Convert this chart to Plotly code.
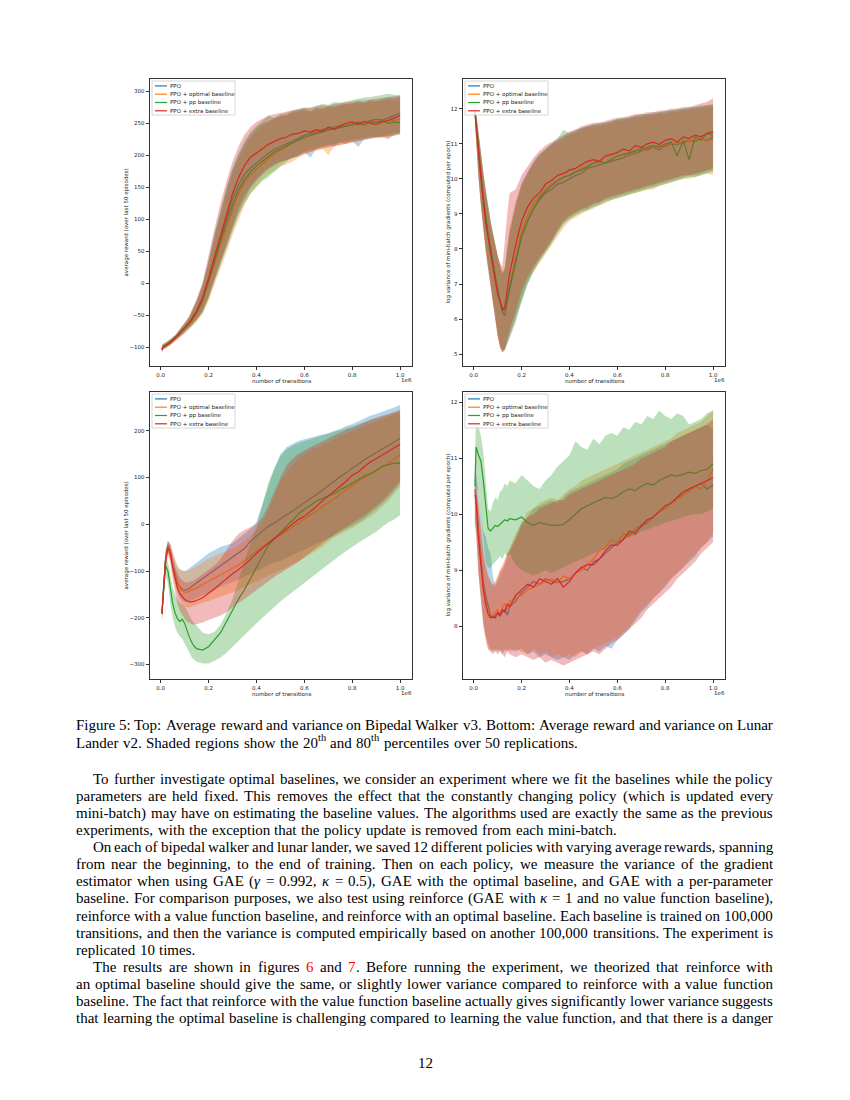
import re
import plotly.graph_objects as go

# ---------------------------------------------------------------- data
X = [0.005, 0.01, 0.02, 0.03, 0.04, 0.05, 0.06, 0.07, 0.08, 0.09,
     0.10, 0.11, 0.12, 0.13, 0.14, 0.15, 0.175, 0.2, 0.225, 0.25,
     0.275, 0.3, 0.325, 0.35, 0.375, 0.4, 0.425, 0.45, 0.475, 0.5,
     0.525, 0.55, 0.575, 0.6, 0.625, 0.65, 0.675, 0.7, 0.725, 0.75,
     0.775, 0.8, 0.825, 0.85, 0.875, 0.9, 0.925, 0.95, 0.975, 1.0]

SERIES_NAMES = ["PPO", "PPO + optimal baseline", "PPO + pp baseline", "PPO + extra baseline"]
X_TICKS = [0.0, 0.2, 0.4, 0.6, 0.8, 1.0]
X_TICK_TEXT = ["0.0", "0.2", "0.4", "0.6", "0.8", "1.0"]

# ---- Bipedal Walker: average reward
BW_R_PPO = [
    -103, -99, -97, -95, -92, -89, -86, -82, -78, -74,
    -70, -66, -62, -56, -50, -44, -24, 6, 40, 72,
    103, 132, 154, 170, 180, 188, 196, 203, 209, 213,
    217, 222, 226, 231, 233, 236, 240, 242, 243, 246,
    245, 249, 252, 250, 254, 256, 255, 258, 262, 266]
BW_R_OPT = [
    -104, -100, -98, -96, -93, -90, -87, -83, -79, -75,
    -72, -68, -64, -59, -53, -47, -28, 0, 30, 60,
    88, 115, 140, 157, 169, 178, 187, 195, 202, 207,
    213, 219, 223, 228, 231, 235, 236, 240, 241, 244,
    247, 246, 249, 252, 250, 253, 252, 255, 254, 257]
BW_R_PP = [
    -102, -99, -97, -95, -92, -89, -86, -82, -78, -74,
    -70, -66, -62, -57, -51, -45, -26, 3, 35, 66,
    96, 122, 146, 162, 174, 183, 191, 198, 205, 210,
    214, 219, 224, 228, 231, 234, 236, 239, 242, 243,
    246, 248, 250, 247, 253, 251, 254, 250, 252, 251]
BW_R_EXTRA = [
    -104, -99, -97, -95, -92, -88, -85, -81, -77, -73,
    -69, -65, -61, -55, -49, -43, -22, 8, 42, 76,
    110, 140, 165, 184, 197, 203, 210, 217, 222, 226,
    228, 233, 234, 238, 236, 240, 237, 244, 240, 246,
    250, 252, 248, 253, 250, 248, 252, 254, 258, 262]
BW_R_PPO_LO = [
    -107, -103, -101, -99, -96, -93, -90, -87, -84, -80,
    -77, -73, -70, -66, -62, -58, -45, -22, 5, 30,
    58, 85, 110, 130, 148, 160, 170, 178, 183, 189,
    192, 195, 198, 205, 196, 210, 212, 215, 214, 220,
    218, 222, 213, 225, 226, 229, 228, 232, 234, 236]
BW_R_PPO_HI = [
    -99, -95, -93, -91, -88, -85, -82, -78, -73, -68,
    -63, -58, -52, -45, -37, -28, -2, 35, 76, 112,
    148, 178, 200, 218, 232, 243, 250, 253, 258, 262,
    263, 268, 270, 272, 268, 274, 273, 277, 276, 279,
    280, 281, 284, 282, 286, 285, 288, 290, 289, 292]
BW_R_OPT_LO = [
    -108, -104, -102, -100, -97, -94, -91, -88, -85, -81,
    -78, -75, -72, -68, -64, -60, -48, -28, -2, 22,
    48, 75, 100, 122, 140, 152, 162, 170, 176, 182,
    186, 190, 196, 200, 205, 207, 210, 200, 214, 216,
    218, 220, 222, 224, 226, 228, 227, 230, 231, 234]
BW_R_OPT_HI = [
    -100, -96, -94, -92, -89, -86, -83, -79, -74, -69,
    -65, -60, -55, -48, -40, -32, -6, 30, 68, 104,
    140, 170, 194, 212, 226, 238, 246, 251, 256, 260,
    262, 266, 268, 270, 269, 272, 271, 276, 274, 278,
    279, 280, 282, 281, 284, 283, 286, 287, 285, 288]
BW_R_PP_LO = [
    -106, -102, -100, -98, -95, -92, -89, -86, -83, -79,
    -76, -72, -69, -65, -61, -57, -45, -24, 4, 28,
    55, 82, 106, 125, 140, 150, 160, 166, 175, 183,
    190, 196, 200, 205, 208, 211, 213, 216, 218, 220,
    222, 224, 226, 227, 229, 228, 230, 229, 231, 232]
BW_R_PP_HI = [
    -98, -94, -92, -90, -87, -84, -81, -77, -72, -67,
    -62, -57, -51, -44, -36, -27, -1, 36, 78, 114,
    150, 180, 203, 222, 236, 246, 254, 262, 258, 264,
    266, 270, 272, 274, 275, 277, 280, 279, 283, 282,
    284, 287, 288, 290, 291, 292, 294, 296, 295, 293]
BW_R_EXTRA_LO = [
    -108, -103, -101, -99, -96, -92, -89, -86, -83, -79,
    -75, -72, -68, -64, -60, -56, -42, -20, 8, 34,
    62, 90, 116, 136, 152, 162, 172, 180, 186, 190,
    193, 197, 200, 203, 206, 208, 210, 212, 214, 217,
    219, 221, 223, 224, 226, 227, 229, 225, 232, 234]
BW_R_EXTRA_HI = [
    -99, -95, -93, -91, -88, -84, -81, -77, -72, -66,
    -61, -56, -50, -42, -33, -24, 2, 42, 86, 126,
    160, 190, 214, 232, 244, 252, 257, 262, 264, 266,
    268, 270, 272, 274, 273, 276, 278, 277, 280, 282,
    283, 284, 286, 285, 287, 288, 289, 291, 292, 294]

# ---- Bipedal Walker: log variance of mini-batch gradients
BW_V_PPO = [
    11.95, 11.55, 10.8, 10.05, 9.45, 8.85, 8.4, 7.95, 7.65, 7.2,
    6.85, 6.45, 6.2, 6.1, 6.45, 6.85, 7.6, 8.35, 8.8, 9.15,
    9.4, 9.6, 9.7, 9.85, 9.9, 10.0, 10.1, 10.15, 10.3, 10.35,
    10.4, 10.45, 10.5, 10.55, 10.6, 10.7, 10.72, 10.8, 10.85, 10.9,
    10.82, 10.95, 11.0, 10.98, 11.05, 11.1, 11.08, 11.15, 11.1, 11.2]
BW_V_OPT = [
    11.95, 11.6, 10.85, 10.1, 9.5, 8.9, 8.45, 8.0, 7.6, 7.25,
    6.9, 6.5, 6.3, 6.2, 6.55, 6.95, 7.75, 8.5, 8.95, 9.3,
    9.5, 9.7, 9.85, 9.95, 10.05, 10.1, 10.2, 10.3, 10.35, 10.45,
    10.5, 10.45, 10.55, 10.65, 10.7, 10.65, 10.8, 10.85, 10.8, 10.9,
    10.95, 10.9, 11.0, 11.05, 11.0, 11.1, 11.05, 11.15, 11.1, 11.15]
BW_V_PP = [
    11.9, 11.55, 10.8, 10.05, 9.45, 8.9, 8.45, 8.0, 7.6, 7.2,
    6.85, 6.5, 6.3, 6.25, 6.55, 6.9, 7.65, 8.35, 8.8, 9.15,
    9.45, 9.65, 9.8, 9.95, 10.05, 10.1, 10.2, 10.25, 10.35, 10.45,
    10.5, 10.45, 10.55, 10.65, 10.7, 10.75, 10.8, 10.85, 10.9, 10.95,
    10.9, 11.0, 11.05, 10.65, 11.1, 10.55, 11.2, 11.1, 11.3, 11.25]
BW_V_EXTRA = [
    11.9, 11.5, 10.7, 10.0, 9.35, 8.75, 8.3, 7.9, 7.5, 7.1,
    6.7, 6.5, 6.25, 6.35, 6.8, 7.3, 8.1, 8.8, 9.2, 9.45,
    9.6, 9.85, 9.95, 10.1, 10.15, 10.25, 10.3, 10.4, 10.5, 10.55,
    10.5, 10.65, 10.7, 10.75, 10.85, 10.8, 10.95, 10.9, 11.0, 11.05,
    10.98, 11.1, 11.15, 11.05, 11.2, 11.15, 11.25, 11.2, 11.3, 11.35]
BW_V_PPO_LO = [
    11.7, 11.1, 10.1, 9.3, 8.6, 8.0, 7.5, 7.0, 6.5, 6.0,
    5.55, 5.2, 5.05, 5.1, 5.25, 5.45, 5.9, 6.5, 7.0, 7.4,
    7.7, 7.95, 8.2, 8.5, 8.75, 8.9, 9.0, 9.1, 9.15, 9.25,
    9.3, 9.4, 9.45, 9.5, 9.55, 9.6, 9.65, 9.7, 9.75, 9.8,
    9.85, 9.9, 9.95, 10.0, 10.05, 10.1, 10.1, 10.15, 10.2, 10.25]
BW_V_PPO_HI = [
    12.2, 12.0, 11.4, 10.8, 10.2, 9.7, 9.2, 8.8, 8.45, 8.1,
    7.8, 7.5, 7.3, 7.4, 8.0, 8.5, 9.3, 9.9, 10.2, 10.5,
    10.7, 10.85, 11.0, 11.1, 11.2, 11.3, 11.35, 11.45, 11.5, 11.55,
    11.55, 11.6, 11.65, 11.7, 11.7, 11.75, 11.8, 11.8, 11.85, 11.85,
    11.9, 11.9, 11.95, 11.95, 12.0, 12.0, 12.05, 12.05, 12.1, 12.1]
BW_V_OPT_LO = [
    11.65, 11.05, 10.05, 9.25, 8.55, 7.95, 7.45, 6.95, 6.45, 5.95,
    5.5, 5.15, 5.05, 5.12, 5.3, 5.5, 6.0, 6.6, 7.1, 7.35,
    7.6, 7.85, 8.1, 8.35, 8.6, 8.8, 8.9, 9.0, 9.1, 9.15,
    9.25, 9.3, 9.4, 9.45, 9.5, 9.55, 9.6, 9.65, 9.7, 9.7,
    9.8, 9.85, 9.9, 9.95, 10.0, 10.0, 10.05, 10.1, 10.15, 10.1]
BW_V_OPT_HI = [
    12.2, 11.95, 11.35, 10.75, 10.15, 9.65, 9.2, 8.85, 8.5, 8.15,
    7.85, 7.55, 7.35, 7.5, 8.1, 8.6, 9.35, 9.85, 10.15, 10.45,
    10.65, 10.8, 10.95, 11.05, 11.15, 11.25, 11.3, 11.4, 11.45, 11.5,
    11.5, 11.55, 11.6, 11.65, 11.65, 11.7, 11.75, 11.75, 11.8, 11.8,
    11.85, 11.85, 11.9, 11.9, 11.95, 11.95, 12.0, 12.0, 12.05, 12.05]
BW_V_PP_LO = [
    11.7, 11.1, 10.1, 9.3, 8.6, 8.05, 7.55, 7.05, 6.55, 6.05,
    5.6, 5.25, 5.1, 5.15, 5.35, 5.55, 6.05, 6.55, 7.0, 7.35,
    7.65, 7.9, 8.15, 8.45, 8.7, 8.85, 8.95, 9.05, 9.1, 9.2,
    9.25, 9.35, 9.4, 9.45, 9.5, 9.55, 9.6, 9.65, 9.7, 9.75,
    9.8, 9.85, 9.9, 9.95, 10.0, 10.05, 10.05, 10.1, 10.15, 10.2]
BW_V_PP_HI = [
    12.15, 11.95, 11.4, 10.8, 10.2, 9.7, 9.25, 8.85, 8.45, 8.1,
    7.8, 7.5, 7.3, 7.45, 8.0, 8.45, 9.2, 9.8, 10.15, 10.45,
    10.7, 10.85, 11.0, 11.15, 11.4, 11.3, 11.4, 11.45, 11.5, 11.55,
    11.6, 11.6, 11.65, 11.7, 11.75, 11.75, 11.8, 11.85, 11.85, 11.9,
    11.9, 11.95, 11.95, 12.0, 12.0, 12.05, 12.05, 12.1, 12.1, 12.15]
BW_V_EXTRA_LO = [
    11.6, 11.0, 10.0, 9.2, 8.5, 7.9, 7.4, 6.9, 6.4, 5.95,
    5.5, 5.2, 5.05, 5.15, 5.4, 5.7, 6.2, 6.8, 7.2, 7.5,
    7.75, 8.0, 8.25, 8.55, 8.8, 8.95, 9.05, 9.15, 9.2, 9.3,
    9.35, 9.45, 9.5, 9.55, 9.6, 9.65, 9.7, 9.75, 9.8, 9.85,
    9.9, 9.95, 10.0, 10.05, 10.1, 10.1, 10.15, 10.2, 10.25, 10.3]
BW_V_EXTRA_HI = [
    12.1, 11.9, 11.3, 10.7, 10.1, 9.6, 9.15, 8.75, 8.4, 8.1,
    7.8, 7.6, 7.5, 8.2, 9.0, 9.6, 9.7, 10.1, 10.35, 10.6,
    10.8, 10.95, 11.05, 11.15, 11.25, 11.35, 11.4, 11.5, 11.55, 11.6,
    11.6, 11.65, 11.7, 11.75, 11.75, 11.8, 11.85, 11.85, 11.9, 11.9,
    11.95, 11.95, 12.0, 12.0, 12.05, 12.05, 12.1, 12.15, 12.2, 12.3]

# ---- Lunar Lander: average reward
LL_R_PPO = [
    -190, -150, -75, -45, -58, -85, -108, -124, -134, -139,
    -141, -140, -137, -133, -129, -125, -116, -107, -98, -89,
    -80, -71, -62, -52, -36, -25, -14, -4, 3, 12,
    20, 28, 38, 46, 55, 63, 73, 82, 92, 102,
    110, 120, 128, 138, 146, 154, 161, 168, 176, 184]
LL_R_OPT = [
    -192, -150, -78, -48, -58, -86, -110, -126, -136, -142,
    -145, -145, -143, -141, -139, -136, -129, -122, -115, -108,
    -102, -95, -87, -78, -68, -57, -48, -40, -32, -24,
    -15, -6, 3, 12, 20, 28, 37, 46, 55, 64,
    73, 82, 91, 100, 107, 114, 122, 130, 139, 148]
LL_R_PP = [
    -190, -150, -88, -100, -140, -170, -190, -202, -208, -203,
    -212, -228, -242, -253, -261, -266, -269, -262, -248, -232,
    -208, -183, -160, -140, -115, -90, -68, -45, -31, -16,
    -4, 8, 22, 32, 40, 50, 55, 60, 66, 74,
    80, 88, 96, 103, 108, 115, 124, 128, 131, 131]
LL_R_EXTRA = [
    -192, -150, -80, -50, -62, -92, -118, -136, -148, -156,
    -161, -164, -166, -166, -165, -163, -157, -148, -138, -127,
    -116, -106, -97, -87, -75, -62, -50, -40, -30, -21,
    -10, 0, 10, 17, 27, 38, 50, 60, 70, 80,
    92, 105, 112, 123, 133, 140, 148, 155, 164, 171]
LL_R_PPO_LO = [
    -205, -170, -92, -58, -72, -105, -128, -145, -156, -162,
    -165, -166, -165, -163, -161, -158, -152, -146, -140, -134,
    -128, -124, -118, -112, -106, -100, -94, -88, -82, -78,
    -72, -66, -60, -55, -48, -42, -36, -30, -24, -17,
    -10, -4, 4, 12, 22, 32, 44, 56, 70, 88]
LL_R_PPO_HI = [
    -175, -125, -55, -35, -42, -62, -80, -92, -98, -100,
    -100, -98, -95, -90, -86, -82, -72, -62, -55, -48,
    -45, -40, -32, -20, -10, 5, 40, 80, 120, 150,
    165, 172, 178, 182, 185, 188, 192, 195, 200, 204,
    210, 214, 220, 226, 232, 236, 240, 245, 250, 255]
LL_R_OPT_LO = [
    -205, -170, -95, -60, -75, -108, -132, -150, -162, -170,
    -175, -178, -178, -176, -174, -172, -168, -164, -160, -155,
    -150, -146, -140, -134, -128, -122, -116, -110, -104, -98,
    -92, -86, -80, -72, -64, -56, -48, -38, -28, -22,
    -14, -8, 0, 8, 16, 26, 38, 50, 65, 80]
LL_R_OPT_HI = [
    -178, -128, -58, -36, -40, -58, -75, -88, -95, -98,
    -100, -100, -98, -95, -92, -90, -82, -74, -68, -62,
    -58, -52, -45, -36, -25, -12, 5, 30, 60, 90,
    110, 125, 140, 150, 158, 165, 170, 176, 182, 188,
    194, 200, 205, 210, 215, 220, 225, 230, 236, 240]
LL_R_PP_LO = [
    -200, -170, -110, -125, -170, -200, -220, -232, -240, -245,
    -255, -268, -278, -285, -290, -294, -298, -298, -292, -285,
    -275, -262, -250, -238, -225, -212, -200, -188, -176, -165,
    -155, -145, -134, -124, -114, -104, -94, -84, -75, -66,
    -57, -48, -40, -32, -24, -16, -6, 4, 10, 20]
LL_R_PP_HI = [
    -175, -130, -72, -80, -110, -135, -150, -160, -168, -170,
    -175, -185, -195, -205, -212, -218, -232, -235, -230, -215,
    -190, -160, -120, -80, -40, -5, 40, 90, 120, 145,
    160, 168, 174, 178, 182, 186, 190, 194, 198, 202,
    206, 210, 214, 218, 222, 226, 230, 234, 238, 242]
LL_R_EXTRA_LO = [
    -208, -172, -100, -65, -82, -118, -148, -170, -185, -195,
    -202, -208, -212, -214, -215, -214, -210, -205, -200, -195,
    -188, -178, -168, -160, -150, -140, -130, -120, -112, -104,
    -96, -88, -80, -70, -60, -52, -42, -32, -22, -14,
    -6, 2, 10, 18, 28, 38, 50, 62, 76, 92]
LL_R_EXTRA_HI = [
    -180, -130, -60, -38, -45, -68, -90, -105, -115, -120,
    -124, -125, -124, -122, -120, -117, -108, -98, -88, -75,
    -55, -35, -20, -12, -6, 0, 15, 40, 70, 100,
    125, 140, 150, 158, 165, 172, 178, 184, 190, 196,
    202, 206, 212, 218, 224, 228, 232, 236, 240, 245]

# ---- Lunar Lander: log variance of mini-batch gradients
LL_V_PPO = [
    10.45, 10.3, 9.7, 9.2, 8.8, 8.55, 8.35, 8.2, 8.15, 8.2,
    8.22, 8.18, 8.25, 8.3, 8.2, 8.35, 8.45, 8.6, 8.7, 8.8,
    8.75, 8.85, 8.8, 8.78, 8.8, 8.85, 8.95, 9.05, 9.0, 9.15,
    9.2, 9.3, 9.4, 9.5, 9.55, 9.65, 9.7, 9.78, 9.85, 9.95,
    10.05, 10.1, 10.2, 10.3, 10.35, 10.45, 10.5, 10.55, 10.45, 10.52]
LL_V_OPT = [
    10.4, 10.25, 9.6, 9.1, 8.7, 8.45, 8.25, 8.18, 8.2, 8.25,
    8.3, 8.22, 8.35, 8.4, 8.3, 8.45, 8.5, 8.55, 8.65, 8.7,
    8.75, 8.8, 8.85, 8.78, 8.9, 8.85, 8.95, 9.0, 9.1, 9.2,
    9.35, 9.4, 9.55, 9.5, 9.65, 9.6, 9.75, 9.8, 9.9, 9.95,
    10.05, 10.1, 10.2, 10.25, 10.35, 10.4, 10.5, 10.45, 10.6, 10.8]
LL_V_PP = [
    10.5, 11.2, 11.05, 10.95, 10.6, 10.15, 9.75, 9.7, 9.75, 9.8,
    9.78, 9.82, 9.85, 9.9, 9.88, 9.92, 9.9, 9.95, 9.85, 9.8,
    9.85, 9.82, 9.8, 9.8, 9.82, 9.9, 10.0, 10.1, 10.15, 10.2,
    10.25, 10.3, 10.28, 10.32, 10.4, 10.45, 10.42, 10.5, 10.55, 10.52,
    10.6, 10.65, 10.7, 10.68, 10.72, 10.75, 10.73, 10.78, 10.8, 10.9]
LL_V_EXTRA = [
    10.35, 10.2, 9.55, 9.05, 8.65, 8.4, 8.22, 8.15, 8.17, 8.15,
    8.25, 8.2, 8.3, 8.25, 8.4, 8.35, 8.55, 8.65, 8.75, 8.7,
    8.85, 8.8, 8.75, 8.85, 8.7, 8.8, 8.95, 9.05, 9.1, 9.1,
    9.2, 9.35, 9.45, 9.45, 9.55, 9.7, 9.65, 9.8, 9.9, 9.95,
    10.05, 10.15, 10.2, 10.3, 10.4, 10.45, 10.5, 10.55, 10.6, 10.65]
LL_V_PPO_LO = [
    9.9, 9.75, 9.0, 8.5, 8.1, 7.85, 7.7, 7.6, 7.55, 7.6,
    7.55, 7.6, 7.5, 7.6, 7.55, 7.6, 7.55, 7.6, 7.5, 7.55,
    7.45, 7.5, 7.45, 7.4, 7.45, 7.4, 7.5, 7.55, 7.5, 7.6,
    7.55, 7.65, 7.6, 7.75, 7.85, 7.95, 8.1, 8.25, 8.35, 8.5,
    8.6, 8.7, 8.85, 8.95, 9.05, 9.15, 9.25, 9.4, 9.5, 9.6]
LL_V_PPO_HI = [
    10.9, 10.8, 10.4, 10.0, 9.7, 9.6, 9.4, 9.3, 8.9, 8.7,
    8.8, 8.9, 9.0, 9.1, 9.2, 9.35, 9.6, 9.85, 9.95, 10.1,
    10.15, 10.2, 10.25, 10.2, 10.3, 10.4, 10.45, 10.5, 10.55, 10.6,
    10.65, 10.7, 10.75, 10.8, 10.9, 10.95, 11.0, 11.05, 11.1, 11.15,
    11.2, 11.25, 11.3, 11.35, 11.4, 11.45, 11.5, 11.55, 11.6, 11.5]
LL_V_OPT_LO = [
    9.85, 9.7, 8.95, 8.45, 8.05, 7.8, 7.6, 7.55, 7.6, 7.55,
    7.6, 7.55, 7.6, 7.55, 7.6, 7.55, 7.6, 7.55, 7.5, 7.6,
    7.5, 7.55, 7.45, 7.5, 7.45, 7.5, 7.45, 7.55, 7.5, 7.6,
    7.65, 7.7, 7.75, 7.8, 7.9, 8.0, 8.15, 8.3, 8.4, 8.5,
    8.6, 8.75, 8.85, 8.95, 9.05, 9.2, 9.3, 9.4, 9.5, 9.7]
LL_V_OPT_HI = [
    10.8, 10.7, 10.2, 9.8, 9.4, 9.1, 8.9, 8.8, 8.7, 8.75,
    8.85, 9.0, 9.1, 9.2, 9.3, 9.4, 9.65, 9.85, 10.05, 10.1,
    10.2, 10.25, 10.3, 10.25, 10.35, 10.45, 10.5, 10.6, 10.65, 10.7,
    10.75, 10.8, 10.85, 10.9, 10.95, 11.0, 11.05, 11.1, 11.15, 11.2,
    11.25, 11.3, 11.35, 11.45, 11.5, 11.55, 11.6, 11.65, 11.75, 11.85]
LL_V_PP_LO = [
    10.0, 10.5, 10.4, 10.0, 9.5, 9.15, 9.05, 9.05, 9.1, 9.15,
    9.2, 9.25, 9.2, 9.3, 9.25, 9.3, 9.1, 9.0, 8.95, 8.9,
    8.95, 9.0, 8.95, 9.0, 9.05, 9.1, 9.15, 9.2, 9.25, 9.3,
    9.35, 9.4, 9.45, 9.5, 9.55, 9.6, 9.62, 9.7, 9.72, 9.78,
    9.8, 9.85, 9.88, 9.92, 9.95, 9.98, 10.0, 10.0, 10.05, 10.1]
LL_V_PP_HI = [
    11.0, 11.7, 11.55, 11.4, 11.1, 10.6, 10.1, 10.05, 10.2, 10.3,
    10.25, 10.4, 10.45, 10.55, 10.5, 10.6, 10.55, 10.7, 10.6, 10.5,
    10.45, 10.6, 10.7, 10.85, 10.95, 11.05, 11.3, 11.2, 11.15, 11.35,
    11.25, 11.4, 11.45, 11.4, 11.55, 11.5, 11.65, 11.6, 11.75, 11.7,
    11.85, 11.75, 11.7, 11.8, 11.75, 11.6, 11.65, 11.7, 11.8, 11.85]
LL_V_EXTRA_LO = [
    9.8, 9.65, 8.9, 8.4, 8.0, 7.75, 7.6, 7.55, 7.5, 7.55,
    7.5, 7.55, 7.5, 7.45, 7.55, 7.5, 7.45, 7.5, 7.45, 7.4,
    7.45, 7.35, 7.4, 7.35, 7.3, 7.35, 7.4, 7.45, 7.5, 7.55,
    7.5, 7.6, 7.7, 7.75, 7.85, 7.95, 8.05, 8.15, 8.3, 8.4,
    8.5, 8.6, 8.7, 8.85, 8.95, 9.05, 9.15, 9.3, 9.4, 9.5]
LL_V_EXTRA_HI = [
    10.7, 10.6, 10.1, 9.7, 9.3, 9.05, 8.9, 8.8, 8.75, 8.8,
    8.9, 9.0, 9.05, 9.15, 9.3, 9.35, 9.55, 9.8, 9.95, 10.0,
    10.1, 10.15, 10.2, 10.25, 10.25, 10.35, 10.4, 10.45, 10.5, 10.55,
    10.6, 10.65, 10.7, 10.75, 10.8, 10.85, 10.9, 11.0, 11.05, 11.1,
    11.15, 11.2, 11.3, 11.35, 11.4, 11.45, 11.5, 11.55, 11.6, 11.7]

# ---------------------------------------------------------------- text
# markup: [..] = red reference, <sup>..</sup> = superscript, <i>..</i> = italic
CAPTION = [
    "Figure 5: Top: Average reward and variance on Bipedal Walker v3. Bottom: Average reward and variance on Lunar",
    "Lander v2. Shaded regions show the 20<sup>th</sup> and 80<sup>th</sup> percentiles over 50 replications.",
]
BODY = [  # (text, indented, justified)
    ("To further investigate optimal baselines, we consider an experiment where we fit the baselines while the policy", True, True),
    ("parameters are held fixed. This removes the effect that the constantly changing policy (which is updated every", False, True),
    ("mini-batch) may have on estimating the baseline values. The algorithms used are exactly the same as the previous", False, True),
    ("experiments, with the exception that the policy update is removed from each mini-batch.", False, False),
    ("On each of bipedal walker and lunar lander, we saved 12 different policies with varying average rewards, spanning", True, True),
    ("from near the beginning, to the end of training. Then on each policy, we measure the variance of the gradient", False, True),
    ("estimator when using GAE (<i>γ</i> = 0.992, <i>κ</i> = 0.5), GAE with the optimal baseline, and GAE with a per-parameter", False, True),
    ("baseline. For comparison purposes, we also test using reinforce (GAE with <i>κ</i> = 1 and no value function baseline),", False, True),
    ("reinforce with a value function baseline, and reinforce with an optimal baseline. Each baseline is trained on 100,000", False, True),
    ("transitions, and then the variance is computed empirically based on another 100,000 transitions. The experiment is", False, True),
    ("replicated 10 times.", False, False),
    ("The results are shown in figures [6] and [7]. Before running the experiment, we theorized that reinforce with", True, True),
    ("an optimal baseline should give the same, or slightly lower variance compared to reinforce with a value function", False, True),
    ("baseline. The fact that reinforce with the value function baseline actually gives significantly lower variance suggests", False, True),
    ("that learning the optimal baseline is challenging compared to learning the value function, and that there is a danger", False, True),
]
PAGE_NUMBER = "12"

# ---------------------------------------------------------------- styling / layout
# The page body has an 8px default margin, so the figure is made 16px smaller
# and every page-pixel position below is shifted by that offset.
OFF = 8
W, H = 850 - 2 * OFF, 1100 - 2 * OFF
COLORS = ["#1f77b4", "#ff7f0e", "#2ca02c", "#d62728"]
ALPHA = 0.32
FILLS = ["rgba(31,119,180,%.2f)" % ALPHA, "rgba(255,127,14,%.2f)" % ALPHA,
         "rgba(44,160,44,%.2f)" % ALPHA, "rgba(214,39,40,%.2f)" % ALPHA]
SANS = "DejaVu Sans"
SERIF = "Liberation Serif"
SMALL = 5.5

PANELS = [
    dict(box=(150, 79, 412, 366), yrange=[-129, 319],
         yticks=[-100, -50, 0, 50, 100, 150, 200, 250, 300],
         ytitle="average reward (over last 50 episodes)", ytitle_x=126,
         series=[(BW_R_PPO, BW_R_PPO_LO, BW_R_PPO_HI), (BW_R_OPT, BW_R_OPT_LO, BW_R_OPT_HI),
                 (BW_R_PP, BW_R_PP_LO, BW_R_PP_HI), (BW_R_EXTRA, BW_R_EXTRA_LO, BW_R_EXTRA_HI)]),
    dict(box=(463, 79, 725, 366), yrange=[4.66, 12.85],
         yticks=[5, 6, 7, 8, 9, 10, 11, 12],
         ytitle="log variance of mini-batch gradients (computed per epoch)", ytitle_x=448,
         series=[(BW_V_PPO, BW_V_PPO_LO, BW_V_PPO_HI), (BW_V_OPT, BW_V_OPT_LO, BW_V_OPT_HI),
                 (BW_V_PP, BW_V_PP_LO, BW_V_PP_HI), (BW_V_EXTRA, BW_V_EXTRA_LO, BW_V_EXTRA_HI)]),
    dict(box=(150, 392, 412, 679), yrange=[-331, 283],
         yticks=[-300, -200, -100, 0, 100, 200],
         ytitle="average reward (over last 50 episodes)", ytitle_x=126,
         series=[(LL_R_PPO, LL_R_PPO_LO, LL_R_PPO_HI), (LL_R_OPT, LL_R_OPT_LO, LL_R_OPT_HI),
                 (LL_R_PP, LL_R_PP_LO, LL_R_PP_HI), (LL_R_EXTRA, LL_R_EXTRA_LO, LL_R_EXTRA_HI)]),
    dict(box=(463, 392, 725, 679), yrange=[7.06, 12.18],
         yticks=[8, 9, 10, 11, 12],
         ytitle="log variance of mini-batch gradients (computed per epoch)", ytitle_x=448,
         series=[(LL_V_PPO, LL_V_PPO_LO, LL_V_PPO_HI), (LL_V_OPT, LL_V_OPT_LO, LL_V_OPT_HI),
                 (LL_V_PP, LL_V_PP_LO, LL_V_PP_HI), (LL_V_EXTRA, LL_V_EXTRA_LO, LL_V_EXTRA_HI)]),
]

for p in PANELS:
    for trio in p["series"]:
        for arr in trio:
            if len(arr) != len(X):
                raise ValueError("length mismatch %d" % len(arr))


def fx(v):
    return (v - OFF) / W


def fy(v):
    return 1 - (v - OFF) / H


AX = dict(showline=True, mirror=True, linecolor="#333333", linewidth=0.8,
          ticks="outside", ticklen=3.5, tickwidth=0.8, tickcolor="#333333",
          showgrid=False, zeroline=False,
          tickfont=dict(family=SANS, size=SMALL, color="#222222"))

fig = go.Figure()
annotations = []
shapes = []
axes_layout = {}


def note(x, y, text, size=SMALL, family=SANS, color="#222222", xanchor="center",
         yanchor="middle", angle=0, style="normal"):
    annotations.append(dict(x=fx(x), y=fy(y), xref="paper", yref="paper", text=text,
                            showarrow=False, xanchor=xanchor, yanchor=yanchor,
                            textangle=angle, borderpad=0, borderwidth=0,
                            font=dict(family=family, size=size, color=color, style=style)))


for k, p in enumerate(PANELS):
    n = "" if k == 0 else str(k + 1)
    xa, ya = "x" + n, "y" + n
    l, t, r, b = p["box"]
    for (mean, lo, hi), name, c, f in zip(p["series"], SERIES_NAMES, COLORS, FILLS):
        fig.add_trace(go.Scatter(x=X, y=mean, mode="lines", name=name,
                                 line=dict(color=c, width=1.2),
                                 xaxis=xa, yaxis=ya, showlegend=False, hoverinfo="skip"))
        fig.add_trace(go.Scatter(x=X + X[::-1], y=lo + hi[::-1], mode="lines",
                                 fill="toself", fillcolor=f, line=dict(width=0),
                                 xaxis=xa, yaxis=ya, showlegend=False, hoverinfo="skip"))
    axes_layout["xaxis" + n] = dict(domain=[fx(l), fx(r)], anchor=ya, range=[-0.0448, 1.0498],
                                    tickvals=X_TICKS, ticktext=X_TICK_TEXT, **AX)
    axes_layout["yaxis" + n] = dict(domain=[fy(b), fy(t)], anchor=xa, range=p["yrange"],
                                    tickvals=p["yticks"], **AX)
    # axis titles & offset text
    note((l + r) / 2, b + 15, "number of transitions")
    note(p["ytitle_x"], (t + b) / 2, p["ytitle"], angle=-90)
    note(r - 6, b + 14, "1e6")
    # legend (matplotlib style)
    shapes.append(dict(type="rect", xref="paper", yref="paper",
                       x0=fx(l + 2), x1=fx(l + 85), y0=fy(t + 36), y1=fy(t + 2),
                       line=dict(color="#cccccc", width=0.8),
                       fillcolor="rgba(255,255,255,0.8)", layer="above"))
    for i, (name, c) in enumerate(zip(SERIES_NAMES, COLORS)):
        yy = t + 6.9 + i * 8.3
        shapes.append(dict(type="line", xref="paper", yref="paper",
                           x0=fx(l + 5), x1=fx(l + 17), y0=fy(yy), y1=fy(yy),
                           line=dict(color=c, width=1.2), layer="above"))
        note(l + 19.5, yy, name, xanchor="left")

# ---------------------------------------------------------------- page text (justified)
CW = {' ': 250, '.': 250, ',': 250, ':': 278, ';': 278, '(': 333, ')': 333, '-': 333,
      '=': 564, 'γ': 440, 'κ': 480}
for ch, w in zip("abcdefghijklmnopqrstuvwxyz",
                 [444, 500, 444, 500, 444, 333, 500, 500, 278, 278, 500, 278, 778,
                  500, 500, 500, 500, 333, 389, 278, 500, 500, 722, 500, 500, 444]):
    CW[ch] = w
for ch, w in zip("ABCDEFGHIJKLMNOPQRSTUVWXYZ",
                 [722, 667, 667, 722, 611, 556, 722, 722, 333, 389, 722, 611, 889,
                  722, 722, 556, 722, 667, 556, 611, 722, 722, 944, 722, 722, 611]):
    CW[ch] = w
for ch in "0123456789":
    CW[ch] = 500

FS = 15
LEFT, RIGHT, INDENT = 76, 773, 17
SUP_SCALE = 0.7


def raw_width(s, size):
    return sum(CW.get(c, 500) for c in s) * size / 1000.0


def pieces(word):
    """split a word into (text, kind) pieces: normal / red / sup / ital"""
    out = []
    for tok in re.split(r"(\[.*?\]|<sup>.*?</sup>|<i>.*?</i>)", word):
        if not tok:
            continue
        if tok.startswith("["):
            out.append((tok[1:-1], "red"))
        elif tok.startswith("<sup>"):
            out.append((tok[5:-6], "sup"))
        elif tok.startswith("<i>"):
            out.append((tok[3:-4], "ital"))
        else:
            out.append((tok, "normal"))
    return out


def piece_width(txt, kind):
    return raw_width(txt, FS * SUP_SCALE if kind == "sup" else FS)


def word_width(word):
    return sum(piece_width(t, k) for t, k in pieces(word))


def draw_word(x, y, word):
    for txt, kind in pieces(word):
        if kind == "sup":
            note(x, y - 0.36 * FS, txt, size=FS * SUP_SCALE, family=SERIF,
                 color="#000000", xanchor="left")
        else:
            note(x, y, txt, size=FS, family=SERIF,
                 color="#ff0000" if kind == "red" else "#000000", xanchor="left",
                 style="italic" if kind == "ital" else "normal")
        x += piece_width(txt, kind)


def set_line(text, y, indent, justify):
    words = text.split(" ")
    x0 = LEFT + (INDENT if indent else 0)
    widths = [word_width(w) for w in words]
    if justify and len(words) > 1:
        gap = (RIGHT - x0 - sum(widths)) / (len(words) - 1)
    else:
        gap = 0.3 * FS
    x = x0
    for w, wd in zip(words, widths):
        draw_word(x, y, w)
        x += wd + gap


set_line(CAPTION[0], 725, False, True)
set_line(CAPTION[1], 743, False, False)
for i, (txt, ind, just) in enumerate(BODY):
    set_line(txt, 779 + i * 17.07, ind, just)
note(425, 1063, PAGE_NUMBER, size=FS, family=SERIF, color="#000000")

fig.update_layout(width=W, height=H, margin=dict(l=0, r=0, t=0, b=0),
                  paper_bgcolor="white", plot_bgcolor="white",
                  annotations=annotations, shapes=shapes, **axes_layout)
fig.write_html("out.html", config={"displayModeBar": False})
